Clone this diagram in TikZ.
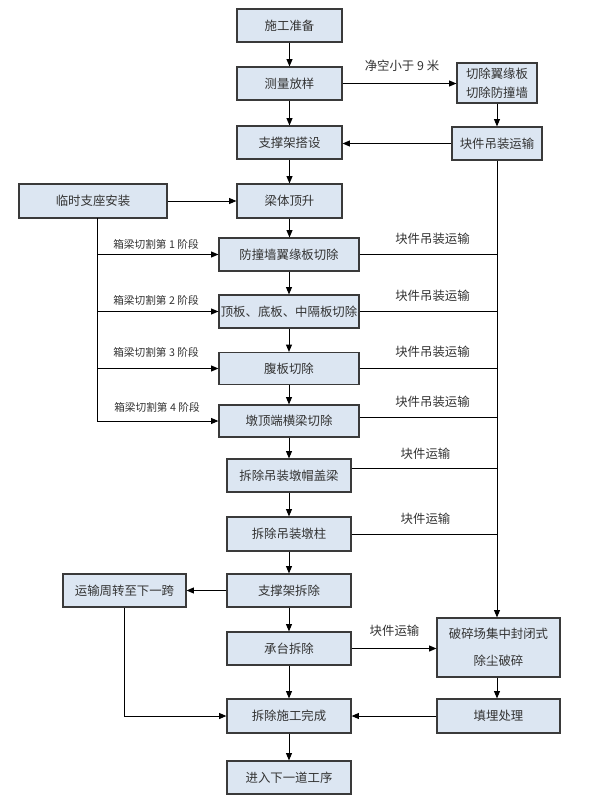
\documentclass[tikz,border=0pt]{standalone}
\usepackage{fontspec}
\setmainfont{Noto Sans CJK SC}
\usetikzlibrary{arrows.meta}
\definecolor{boxfill}{HTML}{DCE6F2}
\definecolor{boxline}{HTML}{3A3A3A}
\definecolor{txt}{HTML}{333333}
\begin{document}
\begin{tikzpicture}[x=0.75pt,y=-0.75pt,
 box/.style={draw=boxline,fill=boxfill,line width=0.9pt,text=txt,font=\fontsize{9.3pt}{14pt}\selectfont,inner sep=0pt,align=center},
 lab/.style={text=txt,font=\fontsize{9.3pt}{11pt}\selectfont,inner sep=0pt},
 slab/.style={text=txt,font=\fontsize{8pt}{10pt}\selectfont,inner sep=0pt},
 arr/.style={-{Triangle[length=5.5pt,width=4.5pt]},line width=0.75pt,black},
 ln/.style={line width=0.75pt,black}]
\useasboundingbox (0,0) rectangle (590,800);
\fill[white] (0,0) rectangle (590,800);

% main column
\node[box,minimum width=78.75pt,minimum height=24.75pt] (A) at (289.5,25.5) {施工准备};
\node[box,minimum width=78.75pt,minimum height=24.75pt] (B) at (289.5,83.5) {测量放样};
\node[box,minimum width=78.75pt,minimum height=24.75pt] (C) at (289.5,142.5) {支撑架搭设};
\node[box,minimum width=78.75pt,minimum height=25.5pt] (D) at (289.5,201) {梁体顶升};
\node[box,minimum width=111pt,minimum height=25.5pt] (E) at (93,201) {临时支座安装};
\node[box,minimum width=60pt,minimum height=30pt] (F) at (497,83) {切除翼缘板\\切除防撞墙};
\node[box,minimum width=67.5pt,minimum height=24.75pt] (G) at (497,143.5) {块件吊装运输};
\node[box,minimum width=105pt,minimum height=24.75pt] (H) at (289,254.5) {防撞墙翼缘板切除};
\node[box,minimum width=105pt,minimum height=24.75pt] (I) at (289,311.5) {顶板、底板、中隔板切除};
\node[box,minimum width=105pt,minimum height=24pt] (J) at (289,368.5) {腹板切除};
\node[box,minimum width=105pt,minimum height=24pt] (K) at (289,421) {墩顶端横梁切除};
\node[box,minimum width=93pt,minimum height=24.75pt] (L) at (289,475.5) {拆除吊装墩帽盖梁};
\node[box,minimum width=93pt,minimum height=25.5pt] (M) at (289,534) {拆除吊装墩柱};
\node[box,minimum width=93pt,minimum height=24.75pt] (N) at (289,590.5) {支撑架拆除};
\node[box,minimum width=92.25pt,minimum height=24.75pt] (O) at (124.5,590.5) {运输周转至下一跨};
\node[box,minimum width=93pt,minimum height=24.75pt] (P) at (289,648.5) {承台拆除};
\node[box,minimum width=93pt,minimum height=25.5pt] (Q) at (289,716) {拆除施工完成};
\node[box,minimum width=93pt,minimum height=24.75pt] (R) at (289,777.5) {进入下一道工序};
\node[box,minimum width=92.25pt,minimum height=44.25pt] (S) at (498.5,647.5) {破碎场集中封闭式\\[6pt]除尘破碎};
\node[box,minimum width=92.25pt,minimum height=25.5pt] (T) at (498.5,716) {填埋处理};

% labels
\node[lab] (l0) at (402,66) {净空小于 9 米};
\node[slab] (s1) at (156,244) {箱梁切割第 1 阶段};
\node[slab] (s2) at (156,300) {箱梁切割第 2 阶段};
\node[slab] (s3) at (156,352) {箱梁切割第 3 阶段};
\node[slab] (s4) at (157,407) {箱梁切割第 4 阶段};
\node[lab] (k1) at (432.5,239) {块件吊装运输};
\node[lab] (k2) at (432.5,296) {块件吊装运输};
\node[lab] (k3) at (432.5,352) {块件吊装运输};
\node[lab] (k4) at (432.5,402) {块件吊装运输};
\node[lab] (y1) at (425.5,454) {块件运输};
\node[lab] (y2) at (425.5,519) {块件运输};
\node[lab] (y3) at (394.5,631) {块件运输};

% main vertical arrows
\draw[arr] (A) -- (B);
\draw[arr] (B) -- (C);
\draw[arr] (C) -- (D);
\draw[arr] (D.south) -- (H.north -| D.south);
\draw[arr] (H) -- (I);
\draw[arr] (I) -- (J);
\draw[arr] (J) -- (K);
\draw[arr] (K) -- (L);
\draw[arr] (L) -- (M);
\draw[arr] (M) -- (N);
\draw[arr] (N) -- (P);
\draw[arr] (P) -- (Q);
\draw[arr] (Q) -- (R);

% side connections
\draw[arr] (B.east) -- (B.east -| F.west);
\draw[arr] (F) -- (G);
\draw[arr] (G.west) -- (G.west -| C.east);
\draw[arr] (E.east) -- (E.east -| D.west);
\draw[arr] (N.west) -- (N.west -| O.east);
\draw[arr] (O.south) -- (O.south |- Q.west) -- (Q.west);
\draw[arr] (P.east) -- (P.east -| S.west);
\draw[arr] (S.south -| G.south) -- (T.north -| G.south);
\draw[arr] (T.west) -- (Q.east);

% left trunk
\coordinate (ltop) at (97,218);
\coordinate (lbot) at (97,421);
\draw[ln] (ltop) -- (lbot);
\draw[arr] (ltop |- H.west) -- (H.west);
\draw[arr] (ltop |- I.west) -- (I.west);
\draw[arr] (ltop |- J.west) -- (J.west);
\draw[arr] (lbot) -- (K.west);

% right trunk
\coordinate (rb) at (G.south |- S.north);
\draw[arr] (G.south) -- (rb);
\draw[ln] (H.east) -- (H.east -| G.south);
\draw[ln] (I.east) -- (I.east -| G.south);
\draw[ln] (J.east) -- (J.east -| G.south);
\draw[ln] ([yshift=2.5pt]K.east) -- ([yshift=2.5pt]K.east -| G.south);
\draw[ln] ([yshift=4.9pt]L.east) -- ([yshift=4.9pt]L.east -| G.south);
\draw[ln] (M.east) -- (M.east -| G.south);
\end{tikzpicture}
\end{document}
